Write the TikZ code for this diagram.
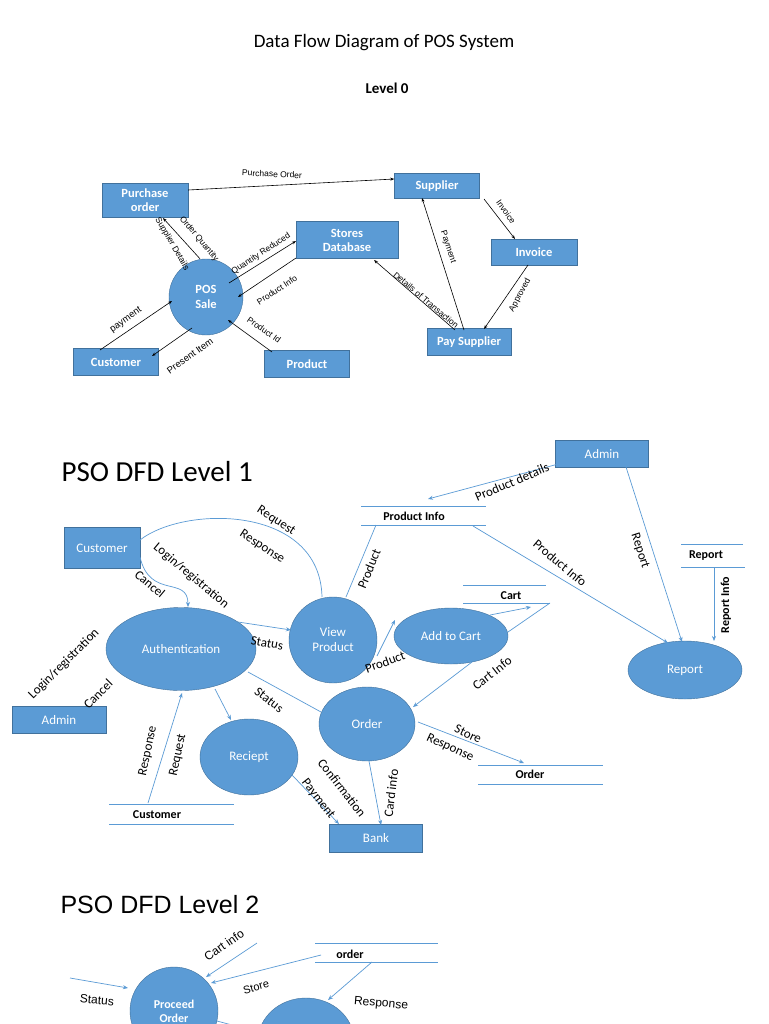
\documentclass[tikz,border=0pt]{standalone}
\usepackage{fontspec}
\setmainfont{Carlito}
\newfontfamily\arial{Liberation Sans}
\usetikzlibrary{arrows.meta,shapes.geometric}
\definecolor{bfill}{HTML}{5B9BD5}
\definecolor{bdraw}{HTML}{41719C}
\definecolor{lblue}{HTML}{5B9BD5}
\begin{document}
\begin{tikzpicture}[x=1pt,y=-1pt,
  box/.style={draw=bdraw,fill=bfill,text=white,font=\fontsize{12.5}{14}\selectfont\bfseries,inner sep=0pt,align=center},
  bbox/.style={draw=bdraw,fill=bfill,text=white,font=\fontsize{13}{14}\selectfont,inner sep=0pt,align=center},
  proc/.style={ellipse,draw=bdraw,fill=bfill,text=white,font=\fontsize{13}{15}\selectfont,inner sep=0pt,align=center},
  a0/.style={-{Stealth[length=4pt,width=3pt]},black,line width=0.6pt},
  l0/.style={font=\arial\fontsize{8.5}{9}\selectfont,inner sep=0pt},
  a1/.style={-{Stealth[length=5pt,width=4pt]},lblue,line width=0.7pt},
  n1/.style={lblue,line width=0.7pt},
  l1/.style={font=\fontsize{13}{14}\selectfont,inner sep=0pt},
  st/.style={font=\fontsize{12}{13}\selectfont\bfseries,inner sep=0pt},
  l2/.style={font=\arial\fontsize{12}{13}\selectfont,inner sep=0pt}]
\useasboundingbox[fill=white] (0,0) rectangle (768,1024);
% titles
\node[font=\fontsize{19}{20}\selectfont] (t0) at (384,43) {Data Flow Diagram of POS System};
\node[font=\fontsize{15}{16}\selectfont\bfseries] (t0b) at (387,88) {Level 0};
% ---------- Level 0
\node[box,minimum width=86pt,minimum height=34pt] (po) at (145,200) {Purchase\\order};
\node[box,minimum width=85pt,minimum height=25pt] (sup) at (437,186) {Supplier};
\node[box,minimum width=102pt,minimum height=37pt] (sdb) at (347,240) {Stores\\Database};
\node[box,minimum width=86pt,minimum height=26pt] (inv) at (534,252) {Invoice};
\node[draw=bdraw,fill=bfill,ellipse,minimum width=74pt,minimum height=76pt,text=white,font=\fontsize{12.5}{15}\selectfont\bfseries,align=center,inner sep=0pt] (pos) at (206,297) {POS\\Sale};
\node[box,minimum width=85pt,minimum height=27pt] (cus) at (116,362) {Customer};
\node[box,minimum width=85pt,minimum height=27pt] (prd) at (307,364) {Product};
\node[box,minimum width=84pt,minimum height=27pt] (pay) at (469,342) {Pay Supplier};
\draw[a0] (po.east) ++(0,-10) coordinate (c1) -- (sup.west|-179,179);
\node[l0,rotate=-3] (lpo) at (272,174) {Purchase Order};
\draw[a0] (pos.north) ++(-6,0) -- (163,218);
\node[l0,rotate=-50] (loq) at (199,239) {Order Quantity};
\node[l0,rotate=-60] (lsd) at (172,244) {Supplier Details};
\draw[a0] (229,283) -- (296,241);
\node[l0,rotate=33] (lqr) at (261,254) {Quantity Reduced};
\draw[a0] (296,258) -- (238,297);
\node[l0,rotate=33] (lpi) at (277,290) {Product Info};
\draw[a0] (272,352) -- (228,320);
\node[l0,rotate=-35] (lpid) at (264,330) {Product Id};
\draw[a0] (100,350) -- (172,301);
\node[l0,rotate=35,font=\arial\fontsize{9.5}{10}\selectfont] (lpay) at (126,320) {payment};
\draw[a0] (192,328) -- (152,356);
\node[l0,rotate=35,font=\arial\fontsize{9.5}{10}\selectfont] (lpr) at (190,356) {Present Item};
\draw[a0] (484,199) -- (515,239);
\node[l0,rotate=-55] (linv) at (506,212) {Invoice};
\draw[a0] (528,265) -- (484,329);
\node[l0,rotate=62] (lapp) at (520,295) {Approved};
\draw[a0] (464,330) -- (422,198);
\node[l0,rotate=-72] (lpaym) at (448,247) {Payment};
\draw[a0] (455,330) -- (374,260);
\node[l0,rotate=-40] (ldt) at (426,300) {Details of Transaction};
% ---------- Level 1
\node[font=\fontsize{29}{30}\selectfont,anchor=west] (t1) at (58,472) {PSO DFD Level 1};
\node[bbox,minimum width=93pt,minimum height=27pt] (adm) at (602,454) {Admin};
\draw[n1] (361,506) coordinate (pi1) -- (486,506);
\draw[n1] (361,525) -- (486,525);
\node[st] (pis) at (414,516) {Product Info};
\node[bbox,minimum width=76pt,minimum height=41pt] (cu1) at (102,548) {Customer};
\node[proc,minimum width=150pt,minimum height=83pt] (auth) at (181,649) {Authentication};
\node[proc,minimum width=88pt,minimum height=86pt] (vp) at (333,640) {View\\Product};
\node[proc,minimum width=114pt,minimum height=56pt] (atc) at (451,636) {Add to Cart};
\draw[n1] (463,585) -- (546,585);
\draw[n1] (463,603) -- (550,603);
\node[st] (cart) at (511,596) {Cart};
\draw[n1] (681,544) -- (743,544);
\draw[n1] (681,567) -- (745,567);
\node[st] (rps) at (706,556) {Report};
\node[proc,minimum width=114pt,minimum height=58pt] (rep) at (685,670) {Report};
\node[bbox,minimum width=94pt,minimum height=27pt] (adm2) at (59,720) {Admin};
\node[proc,minimum width=96pt,minimum height=74pt] (ord) at (367,724) {Order};
\node[proc,minimum width=98pt,minimum height=76pt] (rec) at (249,757) {Reciept};
\draw[n1] (109,804) -- (234,804);
\draw[n1] (109,824) -- (234,824);
\node[st] (cst) at (157,815) {Customer};
\draw[n1] (478,765) -- (603,765);
\draw[n1] (478,784) -- (603,784);
\node[st] (ost) at (530,774) {Order};
\node[bbox,minimum width=93pt,minimum height=28pt] (bank) at (376,838) {Bank};
% level 1 flows
\draw[a1] (562,463) -- (428,499);
\node[l1,rotate=23] at (512,482) {Product details};
\draw[a1] (626,467) -- (682,642);
\node[l1,rotate=-72] at (640,551) {Report};
\draw[a1] (473,526) -- (668,643);
\node[l1,rotate=-40] at (560,563) {Product Info};
\draw[a1] (714,568) -- (714,641);
\node[l1,rotate=90,font=\fontsize{12}{13}\selectfont\bfseries] at (726,605) {Report Info};
\draw[a1] (140,557) .. controls (150,600) and (188,575) .. (188,607);
\node[l1,rotate=-40] at (191,576) {Login/registration};
\node[l1,rotate=-40] at (150,584) {Cancel};
\draw[n1] (140,540) .. controls (185,505) and (320,505) .. (322,597);
\node[l1,rotate=-33] at (276,521) {Request};
\node[l1,rotate=-33] at (262,547) {Response};
\draw[n1] (346,597) -- (376,525);
\node[l1,rotate=68] at (369,569) {Product};
\draw[a1] (238,622) -- (291,630);
\node[l1,rotate=-10] at (267,643) {Status};
\draw[a1] (377,656) -- (395,620);
\node[l1,rotate=20] at (385,662) {Product};
\draw[a1] (490,615) -- (531,607);
\draw[n1] (508,632) -- (550,603);
\draw[a1] (472,662) -- (413,707);
\node[l1,rotate=38] at (492,673) {Cart Info};
\draw[n1] (248,672) -- (321,712);
\node[l1,rotate=-38] at (269,700) {Status};
\draw[a1] (418,722) -- (524,763);
\node[l1,rotate=-25] at (468,734) {Store};
\node[l1,rotate=-25] at (450,748) {Response};
\draw[a1] (369,761) -- (381,825);
\node[l1,rotate=83] at (391,793) {Card info};
\draw[a1] (292,775) -- (339,824);
\node[l1,rotate=-52] at (318,799) {Payment};
\node[l1,rotate=-52] at (342,788) {Confirmation};
\draw[a1] (215,689) -- (231,720);
\draw[a1] (148,803) -- (182,693);
\node[l1,rotate=78] at (148,751) {Response};
\node[l1,rotate=78] at (178,755) {Request};
\draw[a1] (105,708) -- (66,730);
\node[l1,rotate=45] at (64,664) {Login/registration};
\node[l1,rotate=45] at (98,694) {Cancel};
% ---------- Level 2
\node[font=\arial\fontsize{25}{26}\selectfont,anchor=west] (t2) at (57,905) {PSO DFD Level 2};
\draw[n1] (315,943) -- (438,943);
\draw[n1] (315,962) -- (438,962);
\node[st] (ost2) at (350,954) {order};
\node[proc,minimum width=88pt,minimum height=88pt,font=\fontsize{12}{14}\selectfont\bfseries] (po2) at (174,1011) {Proceed\\Order};
\node[proc,minimum width=96pt,minimum height=86pt] (p2b) at (306,1041) {};
\draw[a1] (70,978) -- (128,988);
\node[l2,rotate=-5] at (97,1000) {Status};
\draw[a1] (257,943) -- (206,977);
\node[l2,rotate=35] at (224,945) {Cart info};
\draw[a1] (321,955) -- (211,983);
\node[l2,rotate=15,font=\arial\fontsize{11}{12}\selectfont] at (256,987) {Store};
\draw[a1] (372,962) -- (328,1000);
\node[l2,rotate=-5] at (381,1004) {Response};
\draw[n1] (217,1021) -- (232,1025);
\end{tikzpicture}
\end{document}
